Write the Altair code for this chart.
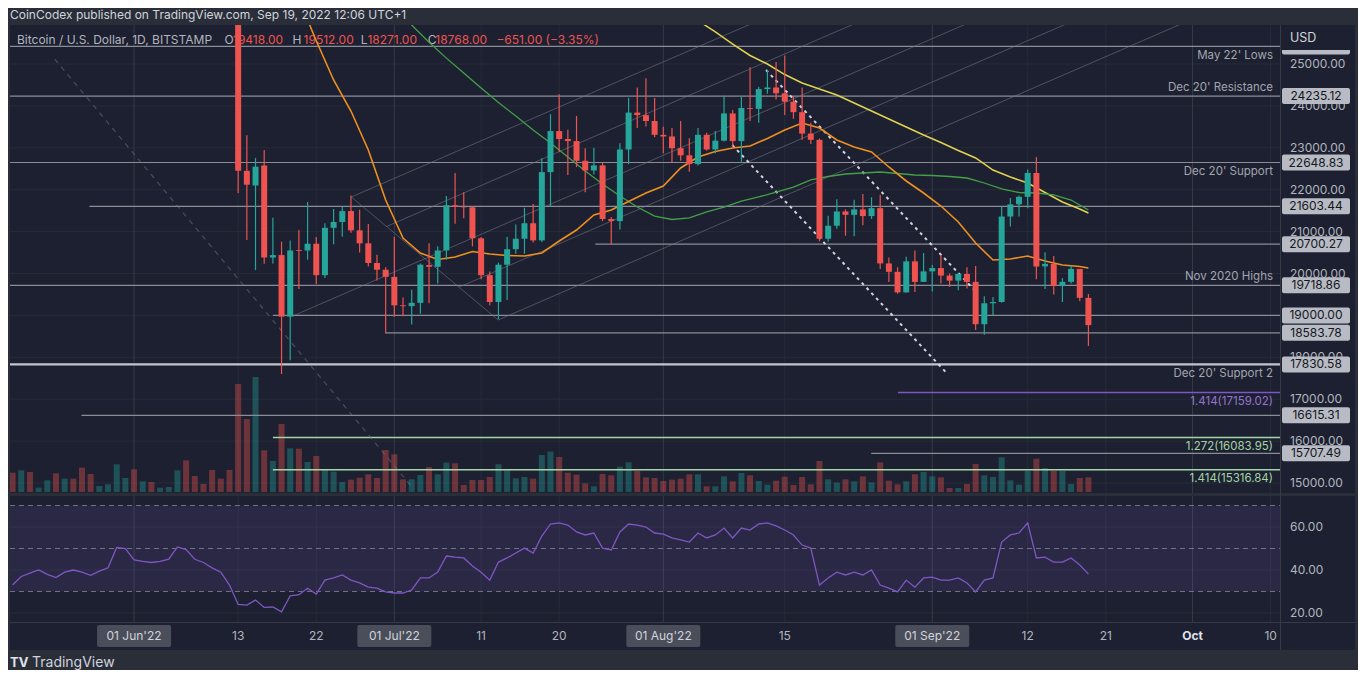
import altair as alt
import pandas as pd

# ---------------- data ----------------
DATES = [d.strftime("%Y-%m-%d") for d in pd.date_range("2022-05-18", "2022-09-19", freq="D")]

OPEN = [30430, 28700, 30300, 29180, 29430, 30280, 29090, 29650, 29540, 29200, 28600, 29020, 29450, 31720,
        31800, 29800, 30460, 29690, 29860, 29900, 31370, 31130, 30200, 30100, 29100, 28400, 26570, 22450, 22100,
        22580, 20380, 20440, 18970, 20560, 20550, 20710, 19960, 21090, 21230, 21490, 21030, 20720, 20250, 20090,
        19920, 19240, 19220, 19300, 20200, 20160, 20550, 21630, 21590, 21580, 20840, 19960, 19320, 20210, 20580,
        20830, 21200, 20790, 22420, 23400, 23210, 23160, 22690, 22460, 22580, 21300, 21250, 22960, 23840, 23780, 23640,
        23310, 23270, 22990, 22820, 22610, 23310, 22960, 23170, 23820, 23160, 23950, 23930, 24400, 24440, 24300,
        24100, 23850, 23340, 23190, 20830, 21140, 21480, 21400, 21530, 21370, 21560, 20240, 20040, 19550, 20290, 19800,
        20050, 20130, 19950, 19830, 19990, 19800, 18790, 19290, 19320, 21360, 21650, 21830, 22400, 20170, 20230,
        19700, 19800, 20110, 19418]
HIGH = [30670, 30540, 30750, 29600, 30440, 30650, 29800, 30180, 29850, 29370, 29200, 29550, 32180, 32380,
        31980, 30650, 30680, 29950, 30150, 31750, 31550, 31330, 30640, 30350, 29450, 28550, 26900, 23300, 22760,
        22950, 21330, 20760, 20790, 21040, 21710, 20870, 21200, 21540, 21600, 21860, 21520, 21180, 20450, 20150,
        20880, 19430, 19610, 20240, 20720, 20650, 21850, 22400, 21940, 21600, 20870, 20050, 20260, 20880, 21170,
        21570, 21660, 22750, 23800, 24280, 23430, 23760, 22990, 23000, 22650, 21350, 23110, 24190, 24440, 24660, 24190,
        23500, 23470, 23640, 23230, 23470, 23360, 23400, 24240, 23900, 24220, 24920, 24450, 24860, 25050, 25200,
        24240, 24440, 23600, 23220, 21380, 21770, 21530, 21760, 21900, 21820, 21880, 20380, 20150, 20400, 20550, 20490,
        20200, 20440, 20000, 20020, 20150, 20180, 19460, 19440, 21600, 21800, 21860, 22480, 22780, 20510, 20420,
        19890, 20190, 20110, 19512]
LOW = [28650, 28690, 28730, 28950, 29240, 28880, 28650, 29300, 28000, 28250, 28560, 28800, 29300, 31200,
       29350, 29600, 29250, 29500, 29500, 29900, 29250, 29850, 29970, 28850, 28100, 26560, 21920, 20800, 20080,
       20230, 20240, 17600, 17930, 19630, 20330, 19750, 19890, 20700, 20880, 20970, 20500, 20170, 19830, 18580,
       18970, 18980, 18780, 19040, 19290, 19760, 20330, 21190, 21320, 20650, 19860, 19240, 18910, 19370, 20470,
       20470, 20740, 20750, 21600, 22900, 22350, 22540, 21940, 22360, 21250, 20700, 21050, 22610, 23470, 23510, 23250,
       22870, 22660, 22690, 22430, 22580, 22930, 22870, 23150, 22990, 22670, 23640, 23600, 24290, 24150, 23780,
       23690, 23190, 23090, 20770, 20760, 21070, 20900, 20890, 21150, 21300, 20110, 19800, 19520, 19540, 19560, 19800,
       19570, 19760, 19680, 19600, 19640, 18650, 18540, 19010, 19300, 21120, 21360, 21560, 19860, 19630, 19500,
       19320, 19760, 19340, 18271]
CLOSE = [28700, 30300, 29180, 29430, 30280, 29090, 29650, 29540, 29200, 28600, 29020, 29450, 31720, 31800,
         29800, 30460, 29690, 29860, 29900, 31370, 31130, 30200, 30100, 29100, 28400, 26570, 22450, 22120, 22550,
         20380, 20440, 18970, 20550, 20540, 20710, 19960, 21090, 21230, 21490, 21030, 20720, 20250, 20090, 19920,
         19240, 19220, 19300, 20210, 20160, 20550, 21630, 21590, 21580, 20840, 19960, 19320, 20210, 20580, 20830,
         21200, 20790, 22420, 23400, 23210, 23160, 22690, 22460, 22580, 21300, 21250, 22960, 23840, 23780, 23640, 23310,
         23270, 22990, 22820, 22610, 23310, 22960, 23170, 23820, 23160, 23950, 23930, 24400, 24440, 24300, 24100,
         23850, 23340, 23190, 20830, 21140, 21480, 21400, 21530, 21370, 21560, 20240, 20040, 19550, 20290, 19800, 20050,
         20130, 19950, 19830, 19990, 19800, 18790, 19290, 19320, 21360, 21650, 21830, 22400, 20170, 20230, 19700,
         19800, 20110, 19420, 18768]
VOLUME = [2900, 3250, 3000, 650, 1750, 2800, 2000, 2000, 3650, 2700, 900, 1150, 4150, 2100,
          3400, 1600, 1500, 650, 750, 3250, 4750, 2400, 1200, 3300, 2000, 3300, 16200, 10950, 17250, 6250, 4650,
          10200, 6550, 6500, 4500, 5400, 3400, 3050, 1500, 1850, 2150, 2650, 2100, 6300,
          5650, 1900, 1900, 2550, 3750, 2650, 4400, 4300, 1050, 1800, 1800, 2250, 4150, 3250, 2050, 2250, 2000, 5550,
          6050, 5250, 2900, 2600, 1300, 850, 2700, 2500, 3800, 4450, 3150, 2200, 2100,
          1650, 1850, 2000, 2650, 2650, 850, 850, 2350, 1600, 2850, 2500, 1650, 1100, 1700, 2300, 1050, 2250, 1150,
          4650, 1900, 1400, 1900, 1600, 2350, 1450, 4450, 1700, 1150, 1600, 2650, 3000,
          2350, 2200, 600, 600, 1200, 4200, 2500, 2250, 5200, 1750, 1100, 3150, 5000, 3600, 3150, 3150, 1200, 2100, 2200]
RSI = [33, 37, 38.5, 40, 38, 36.5, 39, 40, 39, 37.5, 39.5, 41, 50.5, 50,
       44.7, 44, 43.5, 44, 45, 50.7, 49.5, 45, 43.5, 41, 39, 33,
       24, 23.7, 26, 22.6, 22.8, 20.5, 28, 28.5, 31.5, 28.8, 35.3, 36.3, 37.7, 35.3, 34, 32, 31.6, 29.8,
       29.3, 29.3, 30.7, 36.3, 36.3, 39, 46.5, 46, 45.6, 41.9, 39, 35.3, 43.7, 45.6, 47.9, 50.2, 47.9, 55.8, 61.4,
       61.9, 60.9, 57.7, 56.3, 57.2, 50.2, 49.3, 57.7, 61.4, 60.9, 60, 57.2,
       56.7, 54.9, 54, 53, 57.2, 54.9, 56.3, 59.5, 54.9, 59.5, 58.6, 61.4, 61.9, 60.5, 58.6, 56.3, 51.6, 50.2, 33,
       36.3, 39, 37.7, 39, 37.7, 40, 33, 31.6, 29.8, 35.3, 32, 36.3,
       36.7, 35.3, 35.3, 36.3, 34, 29.8, 35.3, 36.3, 53, 56.3, 57.2, 61.9, 45.6, 46, 43.7, 43.7, 45.6, 42.3, 38.1]

MA_FAST_T = ["2022-06-18", "2022-06-20", "2022-06-22", "2022-06-24", "2022-06-26", "2022-06-28", "2022-06-30",
             "2022-07-02", "2022-07-04", "2022-07-06", "2022-07-08", "2022-07-10", "2022-07-12", "2022-07-14",
             "2022-07-16", "2022-07-18", "2022-07-20", "2022-07-22", "2022-07-24", "2022-07-26", "2022-07-28",
             "2022-07-30", "2022-08-01", "2022-08-03", "2022-08-05", "2022-08-07", "2022-08-09", "2022-08-11",
             "2022-08-13", "2022-08-15", "2022-08-17", "2022-08-19", "2022-08-21", "2022-08-23", "2022-08-25",
             "2022-08-27", "2022-08-29", "2022-08-31", "2022-09-02", "2022-09-04", "2022-09-06", "2022-09-08",
             "2022-09-10", "2022-09-12", "2022-09-14", "2022-09-16", "2022-09-18", "2022-09-19"]
MA_FAST_V = [27560, 26550, 25556, 24618, 23878, 22947, 21754, 20847, 20489, 20334, 20394, 20525, 20465, 20430,
             20418, 20489, 20776, 21038, 21396, 21515, 21718, 21921, 22088, 22518, 22780, 22912, 22995, 23043,
             23222, 23425, 23592, 23473, 23186, 23019, 22900, 22542, 22208, 21921, 21611, 21229, 20728, 20322,
             20346, 20418, 20298, 20203, 20167, 20131]
MA_MID_T = ["2022-06-29", "2022-07-01", "2022-07-03", "2022-07-05", "2022-07-07", "2022-07-09", "2022-07-11",
            "2022-07-13", "2022-07-15", "2022-07-17", "2022-07-19", "2022-07-21", "2022-07-23", "2022-07-25",
            "2022-07-27", "2022-07-29", "2022-07-31", "2022-08-02", "2022-08-04", "2022-08-06", "2022-08-08",
            "2022-08-10", "2022-08-12", "2022-08-14", "2022-08-16", "2022-08-18", "2022-08-20", "2022-08-22",
            "2022-08-24", "2022-08-26", "2022-08-28", "2022-08-30", "2022-09-01", "2022-09-03", "2022-09-05",
            "2022-09-07", "2022-09-09", "2022-09-11", "2022-09-13", "2022-09-15", "2022-09-17", "2022-09-19"]
MA_MID_V = [26766, 26360, 25930, 25520, 25140, 24785, 24430, 24079, 23759, 23425, 23115, 22780, 22446, 22136,
            21850, 21587, 21372, 21289, 21325, 21468, 21587, 21730, 21826, 21945, 22064, 22232, 22315, 22375,
            22399, 22422, 22387, 22351, 22339, 22315, 22279, 22160, 22017, 21933, 21921, 21874, 21754, 21516]
MA_SLOW_T = ["2022-08-05", "2022-08-07", "2022-08-09", "2022-08-11", "2022-08-13", "2022-08-15", "2022-08-17",
             "2022-08-19", "2022-08-21", "2022-08-23", "2022-08-25", "2022-08-27", "2022-08-29", "2022-08-31",
             "2022-09-02", "2022-09-04", "2022-09-06", "2022-09-08", "2022-09-10", "2022-09-12", "2022-09-14",
             "2022-09-16", "2022-09-18", "2022-09-19"]
MA_SLOW_V = [26036, 25764, 25477, 25203, 25000, 24749, 24547, 24403, 24260, 24069, 23878, 23687, 23496, 23305,
             23126, 22936, 22757, 22470, 22303, 22160, 21933, 21706, 21539, 21444]

GREY_LEVELS = [25420.00, 24235.12, 22648.83, 21603.44, 20700.27, 19718.86, 19000.00, 18583.78, 17830.58,
               16615.31, 15707.49]
GREY_START = ["2022-05-01", "2022-05-01", "2022-05-01", "2022-05-26T20:24:00Z", "2022-07-24T04:05:00Z",
              "2022-05-01", "2022-06-17", "2022-06-29T22:19:00Z", "2022-05-01", "2022-05-25T22:34:00Z",
              "2022-08-24T23:00:00Z"]
GREY_NAMES = ["May 22' Lows", "Dec 20' Resistance", "Dec 20' Support", "", "", "Nov 2020 Highs", "", "",
              "Dec 20' Support 2", "", ""]
FIB_PURPLE = [17159.02]
FIB_PURPLE_START = ["2022-08-28T01:12:00Z"]
FIB_PURPLE_NAMES = ["1.414(17159.02)"]
FIB_GREEN = [16083.95, 15316.84]
FIB_GREEN_START = ["2022-06-17", "2022-06-17"]
FIB_GREEN_NAMES = ["1.272(16083.95)", "1.414(15316.84)"]

PF_ID = ["median", "median", "upper", "upper", "q1", "q1", "q3", "q3", "lower", "lower", "handle", "handle"]
PF_T = ["2022-06-19T07:12:00Z", "2022-10-10T12:00:00Z", "2022-06-26T01:00:00Z", "2022-10-10T12:00:00Z",
        "2022-06-30T02:24:00Z", "2022-10-10T12:00:00Z", "2022-07-08T12:14:00Z", "2022-10-10T12:00:00Z",
        "2022-07-12T23:17:00Z", "2022-10-10T12:00:00Z", "2022-06-26T01:00:00Z", "2022-07-12T23:17:00Z"]
PF_P = [18986, 29153, 21826, 31372, 21122, 30310, 19678, 28115, 18890, 26926, 21826, 18890]

TREND_ID = ["grey", "grey", "upper", "upper", "lower", "lower"]
TREND_T = ["2022-05-22T20:27:00Z", "2022-07-03T03:07:00Z", "2022-08-12T20:10:00Z", "2022-09-05T23:17:00Z",
           "2022-08-08T22:48:00Z", "2022-09-02T18:29:00Z"]
TREND_P = [25119, 14881, 24857, 19582, 23067, 17601]

PRICE_TICKS = [15000, 16000, 17000, 18000, 19000, 20000, 21000, 22000, 23000, 24000, 25000]
RSI_TICKS = [20, 40, 60]
RSI_BANDS = [70, 50, 30]
TIME_TICKS = ["2022-06-01", "2022-06-13", "2022-06-22", "2022-07-01", "2022-07-11", "2022-07-20", "2022-08-01",
              "2022-08-15", "2022-09-01", "2022-09-12", "2022-09-21", "2022-10-01", "2022-10-10"]

# ---------------- styling / layout ----------------
FONT = "Inter"
W, H = 1270, 597
BG_OUT = "#2a2e39"
BG_IN = "#1c2030"
UP, DOWN = "#26a69a", "#ef5350"
TXT = "#b2b5be"
DAY = 86400000


def ms(s):
    return int(pd.Timestamp(s, tz="UTC").value // 10**6)


XDOM = [ms("2022-06-01") - int(13.722 * DAY), ms("2022-06-01") + int(131.504 * DAY)]
XS = alt.Scale(type="utc", domain=XDOM)
PS = alt.Scale(domain=[15000, 25000], range=[458, 39], nice=False, zero=False)
VS = alt.Scale(domain=[0, 30000], range=[467, 267], nice=False, zero=False)
RS = alt.Scale(domain=[20, 60], range=[588, 502], nice=False, zero=False)

DUMMY = pd.DataFrame({"d": [0]})
UPCOND = "datum.close >= datum.open"


def X(field):
    return alt.X(f"{field}:T", scale=XS, axis=None)


def YP(field):
    return alt.Y(f"{field}:Q", scale=PS, axis=None)


def text_at(s, x, y, color, size=12, weight="normal", align="left"):
    return alt.Chart(pd.DataFrame({"s": [s]})).mark_text(
        align=align, baseline="middle", color=color, fontSize=size, fontWeight=weight, font=FONT
    ).encode(text="s:N", x=alt.value(x), y=alt.value(y))


def rule_px(x0, x1, y0, y1, color, width=1):
    enc = dict(x=alt.value(x0), y=alt.value(y0))
    if x1 is not None:
        enc["x2"] = alt.value(x1)
    if y1 is not None:
        enc["y2"] = alt.value(y1)
    return alt.Chart(DUMMY).mark_rule(color=color, strokeWidth=width).encode(**enc)


df = pd.DataFrame({"date": DATES, "open": OPEN, "high": HIGH, "low": LOW, "close": CLOSE,
                   "volume": VOLUME, "rsi": RSI})
ticks_df = pd.DataFrame({"t": TIME_TICKS})
grey_df = pd.DataFrame({"p": GREY_LEVELS, "start": GREY_START, "name": GREY_NAMES})
purple_df = pd.DataFrame({"p": FIB_PURPLE, "start": FIB_PURPLE_START, "name": FIB_PURPLE_NAMES})
green_df = pd.DataFrame({"p": FIB_GREEN, "start": FIB_GREEN_START, "name": FIB_GREEN_NAMES})

layers = []

# inner panel backdrop (plot + price axis column + time axis row)
layers.append(alt.Chart(DUMMY).mark_rect(color=BG_IN).encode(
    x=alt.value(0), x2=alt.value(W + 75), y=alt.value(0), y2=alt.value(H + 28)))

# grids
layers.append(alt.Chart(pd.DataFrame({"v": PRICE_TICKS})).mark_rule(color="#272b38").encode(
    x=alt.value(0), x2=alt.value(W), y=YP("v")))
layers.append(alt.Chart(pd.DataFrame({"v": RSI_TICKS})).mark_rule(color="#272b38").encode(
    x=alt.value(0), x2=alt.value(W), y=alt.Y("v:Q", scale=RS, axis=None)))
layers.append(alt.Chart(ticks_df).mark_rule(strokeWidth=1).encode(
    x=X("t"), y=alt.value(0), y2=alt.value(H),
    color=alt.condition("utcdate(datum.t) == 1", alt.value("#363a48"), alt.value("#272b38"))))

# RSI pane
layers.append(alt.Chart(pd.DataFrame({"hi": [RSI_BANDS[0]], "lo": [RSI_BANDS[-1]]})).mark_rect(
    color="#7e57c2", opacity=0.15).encode(
    x=alt.value(0), x2=alt.value(W), y=alt.Y("hi:Q", scale=RS, axis=None), y2="lo:Q"))
layers.append(alt.Chart(pd.DataFrame({"v": RSI_BANDS})).mark_rule(
    color="#787b86", strokeDash=[5, 4], opacity=0.9).encode(
    x=alt.value(0), x2=alt.value(W), y=alt.Y("v:Q", scale=RS, axis=None)))
layers.append(alt.Chart(df).mark_line(color="#7e57c2", strokeWidth=1.3, clip=True).encode(
    x=X("date"), y=alt.Y("rsi:Q", scale=RS, axis=None)))

# volume
layers.append(alt.Chart(df).mark_bar(width=6, opacity=0.38, clip=True).encode(
    x=X("date"), y=alt.Y("volume:Q", scale=VS, axis=None), y2=alt.datum(0),
    color=alt.condition(UPCOND, alt.value(UP), alt.value(DOWN))))

# header line (drawn under the candles)
layers.append(text_at("Bitcoin / U.S. Dollar, 1D, BITSTAMP", 7, 15, TXT))
for s, x, c in [("O", 214.5, TXT), ("19418.00", 223, DOWN), ("H", 282.4, TXT), ("19512.00", 293.6, DOWN),
                ("L", 350.7, TXT), ("18271.00", 357.4, DOWN), ("C", 417.7, TXT), ("18768.00", 425.3, DOWN),
                ("\u2212651.00 (\u22123.35%)", 486.4, DOWN)]:
    layers.append(text_at(s, x, 15, c))

# horizontal levels
layers.append(alt.Chart(grey_df).mark_rule(clip=True).encode(
    x=X("start"), x2=alt.value(W), y=YP("p"),
    color=alt.condition("datum.p == 17830.58", alt.value("#c3c6ce"), alt.value("#8a8d96")),
    strokeWidth=alt.condition("datum.p == 17830.58", alt.value(2.2), alt.value(1.2))))
layers.append(alt.Chart(purple_df).mark_rule(clip=True, color="#7e57c2", strokeWidth=1.5).encode(
    x=X("start"), x2=alt.value(W), y=YP("p")))
layers.append(alt.Chart(green_df).mark_rule(clip=True, color="#a5d6a7", strokeWidth=1.5).encode(
    x=X("start"), x2=alt.value(W), y=YP("p")))

# pitchfork and trend lines
layers.append(alt.Chart(pd.DataFrame({"id": PF_ID, "t": PF_T, "p": PF_P})).mark_line(
    clip=True, color="#787b86", opacity=0.55, strokeWidth=1).encode(
    x=X("t"), y=YP("p"), detail="id:N"))
trend_df = pd.DataFrame({"id": TREND_ID, "t": TREND_T, "p": TREND_P})
layers.append(alt.Chart(trend_df).transform_filter("datum.id == 'grey'").mark_line(
    clip=True, color="#787b86", opacity=0.5, strokeWidth=1.2, strokeDash=[5, 5]).encode(
    x=X("t"), y=YP("p"), detail="id:N"))
layers.append(alt.Chart(trend_df).transform_filter("datum.id != 'grey'").mark_line(
    clip=True, color="#d1d4dc", strokeWidth=2, strokeDash=[3, 4]).encode(
    x=X("t"), y=YP("p"), detail="id:N"))

# moving averages
for t, v, c, w in [(MA_SLOW_T, MA_SLOW_V, "#e3d34f", 1.5), (MA_MID_T, MA_MID_V, "#43a047", 1.3),
                   (MA_FAST_T, MA_FAST_V, "#ef8f1f", 1.6)]:
    layers.append(alt.Chart(pd.DataFrame({"t": t, "v": v})).mark_line(
        clip=True, color=c, strokeWidth=w).encode(x=X("t"), y=YP("v")))

# candles
layers.append(alt.Chart(df).mark_rule(clip=True, strokeWidth=1.2).encode(
    x=X("date"), y=YP("low"), y2="high:Q",
    color=alt.condition(UPCOND, alt.value(UP), alt.value(DOWN))))
layers.append(alt.Chart(df).mark_bar(width=6, clip=True).encode(
    x=X("date"), y=YP("open"), y2="close:Q",
    color=alt.condition(UPCOND, alt.value(UP), alt.value(DOWN))))

# level labels
ABOVE = ["Dec 20' Resistance", "Nov 2020 Highs"]
above_test = " || ".join([f"datum.name == \"{a}\"" for a in ABOVE])
for d_, col in [(grey_df, "#a3a6af"), (purple_df, "#9575cd"), (green_df, "#a5d6a7")]:
    base = alt.Chart(d_).transform_filter("datum.name != ''")
    layers.append(base.transform_filter(above_test).mark_text(
        align="right", baseline="middle", dy=-8, color=col, fontSize=11.5, font=FONT).encode(
        x=alt.value(W - 7), y=YP("p"), text="name:N"))
    layers.append(base.transform_filter(f"!({above_test})").mark_text(
        align="right", baseline="middle", dy=9.5, color=col, fontSize=11.5, font=FONT).encode(
        x=alt.value(W - 7), y=YP("p"), text="name:N"))

# time axis: month boxes and labels
layers.append(alt.Chart(ticks_df).transform_filter(
    "utcdate(datum.t) == 1 && utcmonth(datum.t) != 9").mark_rect(
    color="#4a4e5a", xOffset=-37, x2Offset=37, cornerRadius=2).encode(
    x=X("t"), x2="t:T", y=alt.value(H + 3), y2=alt.value(H + 25)))
LABEL_EXPR = ("utcdate(datum.t) == 1 ? (utcmonth(datum.t) == 9 ? 'Oct' : "
              "utcFormat(datum.t, \"%d %b'%y\")) : utcFormat(datum.t, '%d')")
OCT_TEST = "utcmonth(datum.t) == 9 && utcdate(datum.t) == 1"
tl = alt.Chart(ticks_df).transform_calculate(label=LABEL_EXPR)
layers.append(tl.transform_filter(f"!({OCT_TEST})").mark_text(
    align="center", baseline="middle", fontSize=12, font=FONT).encode(
    x=X("t"), y=alt.value(H + 14), text="label:N",
    color=alt.condition("utcdate(datum.t) == 1", alt.value("#d1d4dc"), alt.value(TXT))))
layers.append(tl.transform_filter(OCT_TEST).mark_text(
    align="center", baseline="middle", fontSize=12, font=FONT, fontWeight="bold", color="#e0e3eb").encode(
    x=X("t"), y=alt.value(H + 14), text="label:N"))

# frame separators and axis column
layers.append(alt.Chart(DUMMY).mark_rect(color=BG_IN).encode(
    x=alt.value(W + 1), x2=alt.value(W + 75), y=alt.value(H + 1), y2=alt.value(H + 28)))
layers.append(rule_px(0, W + 75, 469.5, None, BG_OUT, 3))
layers.append(rule_px(W + 0.5, None, 0, H + 28, "#363a45", 1))
layers.append(rule_px(0, W + 75, H + 0.5, None, "#363a45", 1))

# price axis labels
layers.append(alt.Chart(pd.DataFrame({"v": PRICE_TICKS})).mark_text(
    align="left", baseline="middle", color=TXT, fontSize=12, font=FONT).encode(
    x=alt.value(W + 10), y=YP("v"), text=alt.Text("v:Q", format=".2f")))
layers.append(alt.Chart(pd.DataFrame({"v": RSI_TICKS})).mark_text(
    align="left", baseline="middle", color=TXT, fontSize=12, font=FONT).encode(
    x=alt.value(W + 10), y=alt.Y("v:Q", scale=RS, axis=None), text=alt.Text("v:Q", format=".2f")))

# level value boxes on the price axis
layers.append(alt.Chart(grey_df).mark_rect(color="#b8bbc3", yOffset=-8, y2Offset=8, cornerRadius=2).encode(
    x=alt.value(W + 2), x2=alt.value(W + 70), y=YP("p"), y2="p:Q"))
layers.append(alt.Chart(grey_df).mark_text(
    align="center", baseline="middle", color="#131722", fontSize=12, font=FONT).encode(
    x=alt.value(W + 36), y=YP("p"), text=alt.Text("p:Q", format=".2f")))

# USD header cell
layers.append(alt.Chart(DUMMY).mark_rect(color=BG_IN).encode(
    x=alt.value(W + 1), x2=alt.value(W + 75), y=alt.value(0), y2=alt.value(25)))
layers.append(text_at("USD", W + 10, 13, "#d1d4dc", size=12.5))

# publication line and logo
layers.append(text_at("CoinCodex published on TradingView.com, Sep 19, 2022 12:06 UTC+1", 0, -10.5,
                      "#d1d4dc", size=12))
layers.append(text_at("TV", 0, 638, "#e0e3eb", size=13, weight="bold"))
layers.append(text_at("TradingView", 22, 638, "#d1d4dc", size=14))

chart = alt.layer(*layers).resolve_scale(y="independent").properties(
    width=W, height=H,
    autosize=alt.AutoSizeParams(type="none"),
    padding={"left": 2, "top": 17, "right": 78, "bottom": 48},
    background=BG_OUT,
).configure_view(stroke=None)

chart.save("out.html", embed_options={"renderer": "svg", "actions": False})
